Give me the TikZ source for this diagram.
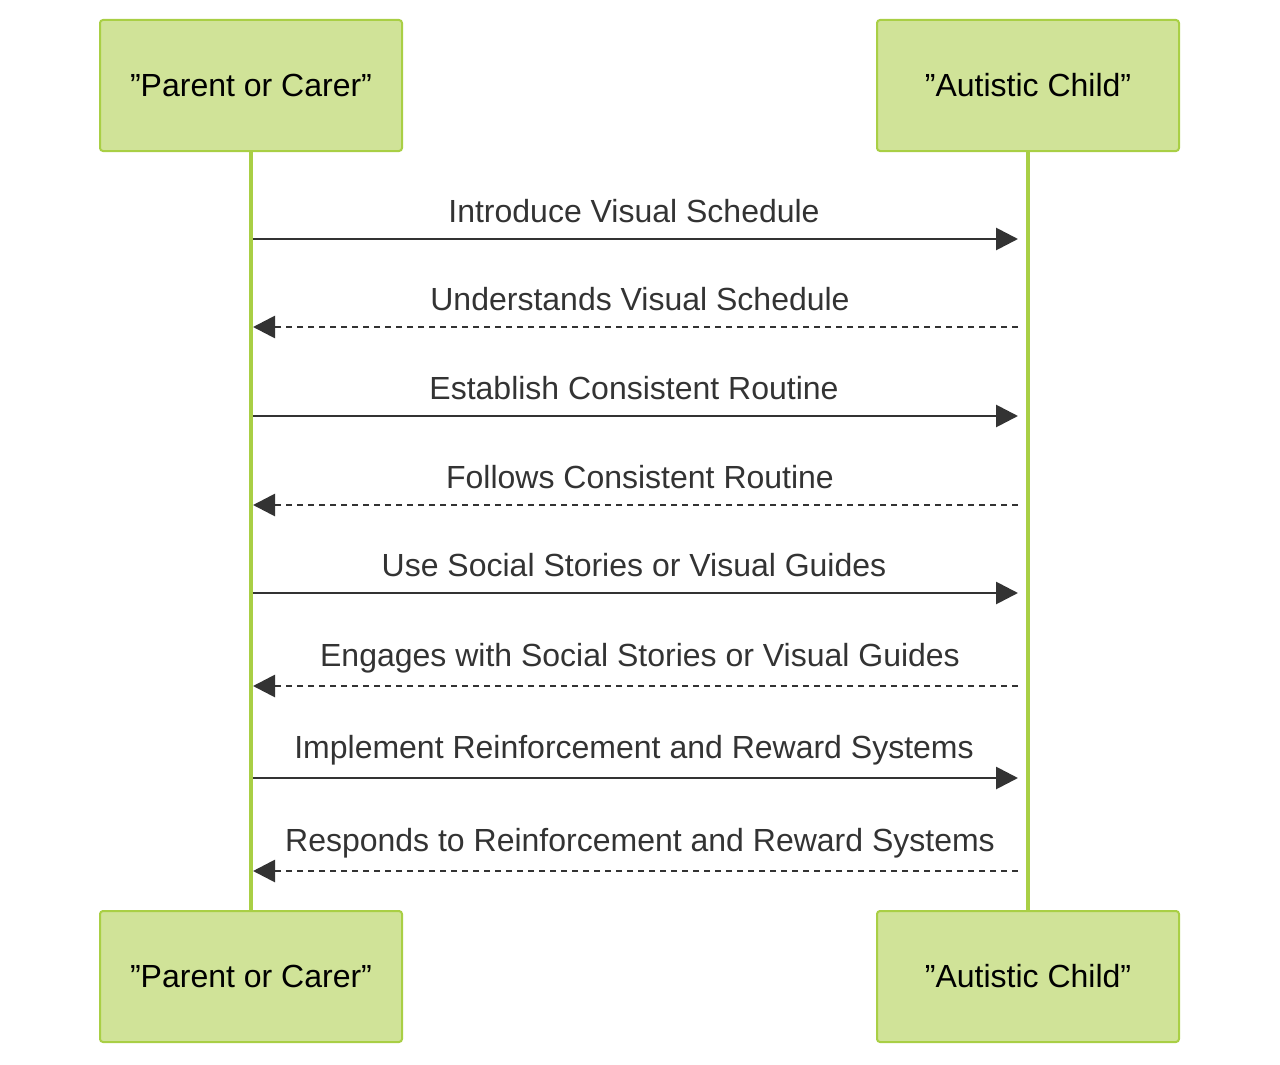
\documentclass[tikz,border=0pt]{standalone}
\usepackage{fontspec}
\setmainfont[Ligatures=NoCommon]{Liberation Sans}
\usetikzlibrary{arrows.meta}
\definecolor{boxfill}{HTML}{D0E398}
\definecolor{boxline}{HTML}{A9CF45}
\definecolor{ink}{HTML}{333333}
\newcommand{\qq}{\symbol{34}}
\begin{document}
\begin{tikzpicture}[x=1pt,y=-1pt,
  actor/.style={draw=boxline,fill=boxfill,line width=2pt,rounded corners=3pt,minimum width=302pt,minimum height=131pt,font=\fontsize{32}{36}\selectfont,text=black},
  life/.style={draw=boxline,line width=3.5pt},
  msg/.style={draw=ink,line width=2.8pt,-{Triangle[length=22pt,width=22pt]}},
  reply/.style={msg,dash pattern=on 6pt off 5pt},
  lbl/.style={font=\fontsize{32}{36}\selectfont,text=ink}]
\useasboundingbox (0,0) rectangle (1280,1065);
\draw[life] (251,151) coordinate (lt) -- (251,911) coordinate (lb);
\draw[life] (1028,151) coordinate (rt) -- (1028,911) coordinate (rb);
\node[actor] (pt) at (251,85.5) {\qq Parent or Carer\qq};
\node[actor] (ct) at (1028,85.5) {\qq Autistic Child\qq};
\node[actor] (pb) at (251,976.5) {\qq Parent or Carer\qq};
\node[actor] (cb) at (1028,976.5) {\qq Autistic Child\qq};
\foreach \y/\t/\lx in {
 239/Introduce Visual Schedule/634,
 327/Understands Visual Schedule/640,
 416/Establish Consistent Routine/634,
 505/Follows Consistent Routine/640,
 593/Use Social Stories or Visual Guides/634,
 686/Engages with Social Stories or Visual Guides/640,
 778/Implement Reinforcement and Reward Systems/634,
 871/Responds to Reinforcement and Reward Systems/640}{
  \coordinate (L\y) at (253,\y);
  \coordinate (R\y) at (1018,\y);
  \node[lbl] (t\y) at (\lx,\y-28) {\t};
}
\foreach \y in {239,416,593,778}{\draw[msg] (L\y) -- (R\y);}
\foreach \y in {327,505,686,871}{\draw[reply] (R\y) -- (L\y);}
\end{tikzpicture}
\end{document}
